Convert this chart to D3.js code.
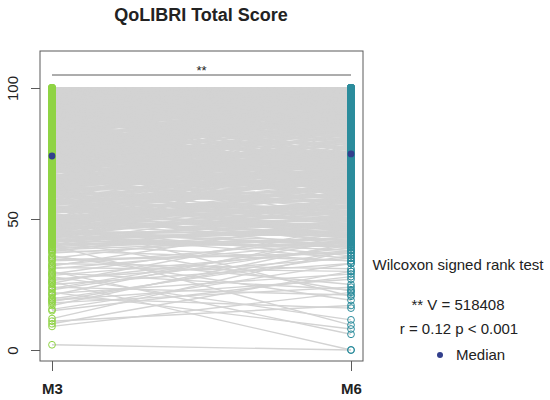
<!DOCTYPE html>
<html><head><meta charset="utf-8">
<script src="https://cdn.jsdelivr.net/npm/d3@7"></script>
<style>body{margin:0;background:#fff}svg{display:block;font-family:"Liberation Sans",Arial,sans-serif}</style>
</head><body>
<svg id="c" width="550" height="400"></svg>
<script>
const title = "QoLIBRI Total Score";
const timepoints = ["M3", "M6"];
const yTicks = [0, 50, 100];
const legendLines = ["Wilcoxon signed rank test", "** V = 518408", "r = 0.12 p < 0.001"];
const sigLabel = "**";
const medianLabel = "Median";

const m3 = [
 2, 9, 10, 11, 12, 15, 15.5, 17, 18, 19, 20, 22, 24, 26, 27, 28, 30, 33, 36, 40,
 18.5, 19.5, 21, 21.5, 23, 23.5, 25, 25.5, 26.5, 28.5, 29, 29.5, 31, 31.5, 32, 32.5, 34, 34.5, 35, 35.5, 37, 37.5, 38, 38.5, 39, 39.5,
 40.5, 41, 41.5, 42, 42.5, 43, 43.5, 44, 44.5, 45, 45.5, 46, 46.5, 47, 47.5, 48, 48.5, 49, 49.5, 50, 50.5, 51, 51.5, 52, 52.5, 53, 53.5, 54, 54.5, 55, 55.5, 56, 56.5, 57, 57.5, 58, 58.5, 59, 59.5, 40.8, 43.8, 46.8, 49.8, 52.8, 55.8, 58.8, 44.2, 48.2, 52.2, 56.2,
 60, 60.5, 61, 61.5, 62, 62.5, 63, 63.5, 64, 64.5, 65, 65.5, 66, 66.5, 67, 67.5, 68, 68.5, 69, 69.5, 70, 70.5, 71, 71.5, 72, 72.5, 73, 73.5, 60.2, 61.2, 62.2, 63.2, 64.2, 65.2, 66.2, 67.2, 68.2, 69.2, 70.2, 71.2, 72.2, 73.2, 60.8, 62.8, 64.8, 66.8, 68.8, 70.8, 72.8, 61.8, 65.8, 69.8,
 74, 74.5, 75, 75.5, 76, 76.5, 77, 77.5, 78, 78.5, 79, 79.5, 74.2, 75.2, 76.2, 77.2, 78.2, 79.2, 74.8, 75.8, 76.8, 77.8, 78.8, 79.8, 74.4, 75.4, 76.4, 77.4, 78.4, 79.4, 74.6, 75.6, 76.6, 77.6, 78.6, 79.6, 80, 80.5,
 81, 81.5, 82, 82.5, 83, 83.5, 84, 84.5, 85, 85.5, 86, 86.5, 87, 87.5, 88, 88.5, 89, 89.5, 80.2, 81.2, 82.2, 83.2, 84.2, 85.2, 86.2, 87.2, 88.2, 89.2, 80.8, 81.8, 82.8, 83.8, 84.8, 85.8, 86.8, 87.8, 88.8, 89.8, 80.4, 81.4, 82.4, 83.4, 84.4, 85.4, 86.4, 87.4, 88.4, 89.4, 83.6, 85.6, 87.6, 89.6,
 90, 90.5, 91, 91.5, 92, 92.5, 93, 93.5, 94, 94.5, 95, 95.5, 96, 96.5, 97, 97.5, 98, 98.5, 99, 99.5, 90.2, 91.2, 92.2, 93.2, 94.2, 95.2, 96.2, 97.2, 98.2, 99.2, 90.8, 91.8, 92.8, 93.8, 94.8, 95.8, 96.8, 97.8, 98.8, 99.8, 90.4, 91.4, 92.4, 93.4, 94.4, 95.4, 96.4, 97.4, 98.4, 100, 100, 100, 100, 100, 100, 100, 100, 100, 100, 100, 100, 100,
 40.3, 41.7, 42.9, 43.1, 44.7, 45.3, 46.1, 47.9, 48.7, 49.3, 50.1, 51.9, 52.7, 53.3, 54.1, 55.9, 56.7, 57.3, 58.1, 59.9, 40.1, 41.3, 42.1, 43.9, 44.9, 45.7, 46.3, 47.1, 48.9, 49.7, 50.3, 51.1, 52.9, 53.7, 54.3, 55.1, 56.9, 57.7, 58.3, 59.1,
 60.3, 60.7, 61.1, 61.3, 61.7, 61.9, 62.1, 62.3, 62.7, 62.9, 63.1, 63.3, 63.7, 63.9, 64.1, 64.3, 64.7, 64.9, 65.1, 65.3, 65.7, 65.9, 66.1, 66.3, 66.7, 66.9, 67.1, 67.3, 67.7, 67.9, 68.1, 68.3, 68.7, 68.9, 69.1, 69.3, 69.7, 69.9, 70.1, 70.3, 70.7, 70.9, 71.1, 71.3, 71.7, 71.9, 72.1, 72.3, 72.7, 72.9, 73.1, 73.3, 73.7, 73.9, 60.1, 60.9, 63.5, 66.5, 69.5, 71.5,
 74.1, 74.3, 74.7, 74.9, 75.1, 75.3, 75.7, 75.9, 76.1, 76.3, 76.7, 76.9, 77.1, 77.3, 77.7, 77.9, 78.1, 78.3, 78.7, 78.9, 79.1, 79.3, 79.7, 79.9, 80.1, 80.3, 80.7, 80.9, 81.1, 81.3, 81.7, 81.9, 82.1, 82.3, 82.7, 82.9, 83.1, 83.3, 83.7, 83.9, 84.1, 84.3, 84.7, 84.9, 85.1, 85.3, 85.7, 85.9, 86.1, 86.3, 86.7, 86.9, 87.1, 87.3, 87.7, 87.9, 88.1, 88.3, 88.7, 88.9, 89.1, 89.3, 89.7, 89.9, 70.05, 70.55, 71.05, 71.55, 72.05, 72.55, 73.05, 73.55, 60.55, 62.55, 64.55, 66.55, 68.55, 58.55, 56.55, 54.55,
 90.1, 90.3, 90.7, 90.9, 91.1, 91.3, 91.7, 91.9, 92.1, 92.3, 92.7, 92.9, 93.1, 93.3, 93.7, 93.9, 94.1, 94.3, 94.7, 94.9, 95.1, 95.3, 95.7, 95.9, 96.1, 96.3, 96.7, 96.9, 97.1, 97.3, 97.7, 97.9, 98.1, 98.3, 98.7, 98.9, 99.1, 99.3, 99.7, 99.9, 100, 100, 100, 100, 100, 100, 100, 100, 100, 100, 90.6, 91.6, 92.6, 93.6, 94.6, 95.6, 96.6, 97.6, 98.6, 99.6, 40.55, 43.55, 46.55, 49.55, 52.55, 55.55, 61.55, 65.55, 67.55, 69.55,
 38.2, 39.2, 40.6, 41.4, 42.6, 43.4, 44.6, 45.4, 46.6, 47.4, 48.6, 49.4, 50.6, 51.4, 52.6, 53.4, 54.6, 55.4, 56.6, 57.4, 58.6, 59.4, 41.2, 42.4, 43.2, 45.2, 46.4, 47.2, 49.2, 50.4, 51.2, 53.2, 54.4, 55.2, 57.2, 58.4, 59.2, 44.8, 47.6, 50.8, 53.8, 56.8, 59.6, 41.9, 45.9, 49.9,
 75.15, 76.15, 77.15, 78.15, 79.15, 80.15, 81.15, 82.15, 83.15, 84.15, 85.15, 86.15, 87.15, 88.15, 89.15, 90.15, 91.15, 92.15, 93.15, 94.15, 95.15, 96.15, 97.15, 98.15, 75.65, 76.65, 77.65, 78.65, 79.65, 80.65, 81.65, 82.65, 83.65, 84.65, 85.65, 86.65, 87.65, 88.65, 89.65, 90.65, 91.65, 92.65, 93.65, 94.65, 95.65, 96.65
];
const m6 = [
 0, 22, 30, 17, 38, 28, 33, 41, 24, 27, 16, 8, 21, 0, 35, 11.5, 6, 31, 19, 9.5,
 38, 36, 44, 29, 40, 42, 33, 47, 39, 38, 45, 23, 41, 30, 50, 42, 37, 37, 48, 25, 43, 52, 34, 46, 43, 55,
 34, 57, 41, 22.5, 65, 49, 38, 72, 53, 45, 61, 36, 78, 50, 43, 68, 55, 20.5, 63, 47, 74, 58, 39, 70, 52, 81, 44, 66, 57, 49, 76, 62, 54, 85, 46, 69, 59, 77, 51, 40, 48, 64, 56, 73, 67, 80, 35, 60, 75, 88,
 71, 55, 83, 64, 48, 77, 69, 58, 90, 74, 62, 86, 53, 79, 67, 95, 72, 60, 84, 66, 78, 50, 88, 73, 63, 92, 70, 81, 57, 76, 68, 87, 61, 80, 74, 93, 65, 82, 59, 89, 75, 97, 64, 85, 71, 56, 91, 78, 69, 83, 100, 62,
 62, 81, 70, 88, 63, 57, 92, 71, 68, 85, 73, 96, 80, 66, 90, 83, 71, 87, 59, 65, 94, 69, 84, 75, 100, 64, 89, 70, 72, 91, 82, 60, 86, 74, 95, 79, 67, 88,
 85, 92, 71, 88, 97, 80, 90, 66, 94, 83, 99, 87, 72, 93, 100, 81, 89, 73, 95, 86, 73, 91, 98, 69, 84, 96, 82, 90, 100, 71, 93, 64, 87, 97, 80, 92, 74, 99, 85, 89, 94, 70, 100, 83, 96, 88, 79, 91, 68, 95, 86, 98,
 95, 100, 88, 97, 92, 100, 84, 99, 96, 90, 100, 93, 98, 86, 100, 94, 72, 97, 100, 91, 99, 89, 100, 95, 74, 98, 93, 100, 96, 87, 100, 92, 97, 70, 99, 94, 100, 90, 98, 85, 96, 100, 93, 67, 99, 91, 100, 97, 88, 100, 100, 95, 100, 98, 100, 83, 100, 96, 100, 100, 92, 100,
 47.3, 39.3, 58.3, 44.3, 52.3, 41.3, 63.3, 49.3, 55.3, 46.3, 71.3, 43.3, 59.3, 50.3, 66.3, 53.3, 45.3, 74.3, 61.3, 56.3, 42.3, 51.3, 46.3, 62.3, 40.3, 57.3, 48.3, 69.3, 43.3, 54.3, 60.3, 47.3, 65.3, 52.3, 44.3, 72.3, 58.3, 50.3, 67.3, 63.3,
 66.7, 69.7, 58.7, 64.7, 71.7, 63.7, 70.7, 75.7, 68.7, 72.7, 55.7, 77.7, 67.7, 64.7, 73.7, 63.7, 60.7, 80.7, 70.7, 66.7, 67.7, 76.7, 59.7, 69.7, 72.7, 61.7, 65.7, 85.7, 74.7, 62.7, 73.7, 69.7, 61.7, 78.7, 57.7, 65.7, 71.7, 66.7, 86.7, 59.7, 73.7, 68.7, 61.7, 70.7, 68.7, 62.7, 75.7, 64.7, 66.7, 70.7, 89.7, 57.7, 63.7, 74.7, 52.7, 69.7, 74.7, 61.7, 68.7, 65.7,
 68.3, 73.3, 91.3, 74.3, 69.3, 88.3, 62.3, 95.3, 72.3, 65.3, 70.3, 97.3, 66.3, 90.3, 67.3, 64.3, 100, 71.3, 87.3, 93.3, 75.3, 64.3, 89.3, 72.3, 96.3, 68.3, 86.3, 69.3, 92.3, 71.3, 99.3, 73.3, 88.3, 94.3, 66.3, 63.3, 100, 70.3, 91.3, 73.3, 97.3, 69.3, 87.3, 67.3, 93.3, 89.3, 100, 70.3, 95.3, 74.3, 86.3, 98.3, 82.3, 90.3, 100, 77.3, 94.3, 88.3, 72.3, 97.3, 85.3, 100, 92.3, 81.3, 90.3, 93.3, 95.3, 98.3, 100, 84.3, 86.3, 91.3, 78.3, 76.3, 80.3, 71.3, 73.3, 65.3, 70.3, 61.3,
 86.7, 97.7, 92.7, 100, 74.7, 95.7, 89.7, 100, 98.7, 84.7, 93.7, 100, 88.7, 96.7, 100, 91.7, 72.7, 99.7, 94.7, 100, 87.7, 97.7, 100, 90.7, 95.7, 73.7, 100, 93.7, 98.7, 85.7, 100, 92.7, 96.7, 100, 89.7, 99.7, 94.7, 100, 97.7, 100, 100, 95.7, 100, 98.7, 91.7, 100, 100, 96.7, 100, 99.7, 83.7, 90.7, 94.7, 88.7, 97.7, 81.7, 99.7, 92.7, 100, 86.7, 78.7, 84.7, 89.7, 91.7, 93.7, 94.7, 96.7, 98.7, 100, 100,
 42.5, 48.5, 39.5, 51.5, 45.5, 57.5, 40.5, 53.5, 47.5, 60.5, 44.5, 50.5, 56.5, 41.5, 63.5, 49.5, 46.5, 54.5, 59.5, 43.5, 52.5, 58.5, 47.5, 40.5, 55.5, 44.5, 50.5, 62.5, 46.5, 53.5, 41.5, 57.5, 49.5, 64.5, 45.5, 52.5, 60.5, 43.5, 48.5, 55.5, 51.5, 61.5, 47.5, 45.5, 39.5, 58.5,
 80.5, 86.5, 77.5, 91.5, 83.5, 96.5, 78.5, 88.5, 93.5, 81.5, 99.5, 85.5, 90.5, 76.5, 94.5, 87.5, 99.5, 82.5, 97.5, 89.5, 95.5, 99.5, 92.5, 98.5, 84.5, 79.5, 92.5, 87.5, 95.5, 82.5, 90.5, 97.5, 85.5, 99.5, 88.5, 93.5, 80.5, 96.5, 91.5, 86.5, 99.5, 94.5, 99.5, 89.5, 97.5, 99.5
];

const colors = {M3: "#8fd444", M6: "#2b8c9c", median: "#323f8c", line: "#d3d3d3", axis: "#5a5a5a", text: "#222"};

const svg = d3.select("#c");
const box = {left: 40, right: 363, top: 51, bottom: 361};
const x = d3.scalePoint().domain(timepoints).range([52, 351]);
const y = d3.scaleLinear().domain([0, 100]).range([350, 88]);

const n = Math.min(m3.length, m6.length);
const pairs = d3.range(n).map(i => ({a: m3[i], b: m6[i]}));

// paired lines
svg.append("g").selectAll("line").data(pairs).join("line")
  .attr("x1", x("M3")).attr("x2", x("M6"))
  .attr("y1", d => y(d.a)).attr("y2", d => y(d.b))
  .attr("stroke", colors.line).attr("stroke-width", 1.4);

// points
const series = [{k: "M3", v: m3.slice(0, n)}, {k: "M6", v: m6.slice(0, n)}];
series.forEach(s => {
  svg.append("g").selectAll("circle").data(s.v).join("circle")
    .attr("cx", x(s.k)).attr("cy", d => y(d)).attr("r", 3.4)
    .attr("fill", "none").attr("stroke", colors[s.k]).attr("stroke-width", 1);
});
// medians
series.forEach(s => {
  svg.append("circle").attr("cx", x(s.k)).attr("cy", y(d3.median(s.v))).attr("r", 3.4)
    .attr("fill", colors.median);
});

// box
svg.append("rect").attr("x", box.left).attr("y", box.top)
  .attr("width", box.right - box.left).attr("height", box.bottom - box.top)
  .attr("fill", "none").attr("stroke", colors.axis).attr("stroke-width", 1);

// y axis
const ya = svg.append("g").attr("transform", `translate(${box.left},0)`)
  .call(d3.axisLeft(y).tickValues(yTicks).tickSize(9).tickFormat(""));
ya.select(".domain").remove();
ya.selectAll("line").attr("stroke", colors.axis);
ya.selectAll(".tick text").remove();
ya.selectAll(".tick").append("text")
  .attr("transform", "translate(-27,0) rotate(-90)")
  .attr("text-anchor", "middle").attr("dy", "0.35em")
  .attr("fill", colors.text).style("font-size", "15px")
  .text(d => d);

// x axis
const xa = svg.append("g").attr("transform", `translate(0,${box.bottom})`)
  .call(d3.axisBottom(x).tickSize(10).tickPadding(12));
xa.select(".domain").remove();
xa.selectAll("line").attr("stroke", colors.axis);
xa.selectAll("text").attr("fill", colors.text).style("font-size", "15px")
  .style("font-weight", "bold").style("font-family", "'Liberation Sans',Arial,sans-serif");

// significance bracket
svg.append("line").attr("x1", x("M3")).attr("x2", x("M6")).attr("y1", 75).attr("y2", 75)
  .attr("stroke", colors.axis).attr("stroke-width", 1);
svg.append("text").attr("x", (x("M3") + x("M6")) / 2).attr("y", 75)
  .attr("text-anchor", "middle").attr("fill", colors.text).style("font-size", "13px").text(sigLabel);

// title
svg.append("text").attr("x", 201).attr("y", 21).attr("text-anchor", "middle")
  .attr("fill", colors.text).style("font-size", "18px").style("font-weight", "bold").text(title);

// legend text
const lx = 458;
svg.append("text").attr("x", lx).attr("y", 270).attr("text-anchor", "middle")
  .attr("fill", colors.text).style("font-size", "15px").text(legendLines[0]);
svg.append("text").attr("x", lx).attr("y", 310).attr("text-anchor", "middle")
  .attr("fill", colors.text).style("font-size", "15px").text(legendLines[1]);
svg.append("text").attr("x", lx + 1).attr("y", 334).attr("text-anchor", "middle")
  .attr("fill", colors.text).style("font-size", "15px").text(legendLines[2]);
svg.append("circle").attr("cx", 440).attr("cy", 355).attr("r", 3).attr("fill", colors.median);
svg.append("text").attr("x", 456).attr("y", 360)
  .attr("fill", colors.text).style("font-size", "15px").text(medianLabel);
</script>
</body></html>
